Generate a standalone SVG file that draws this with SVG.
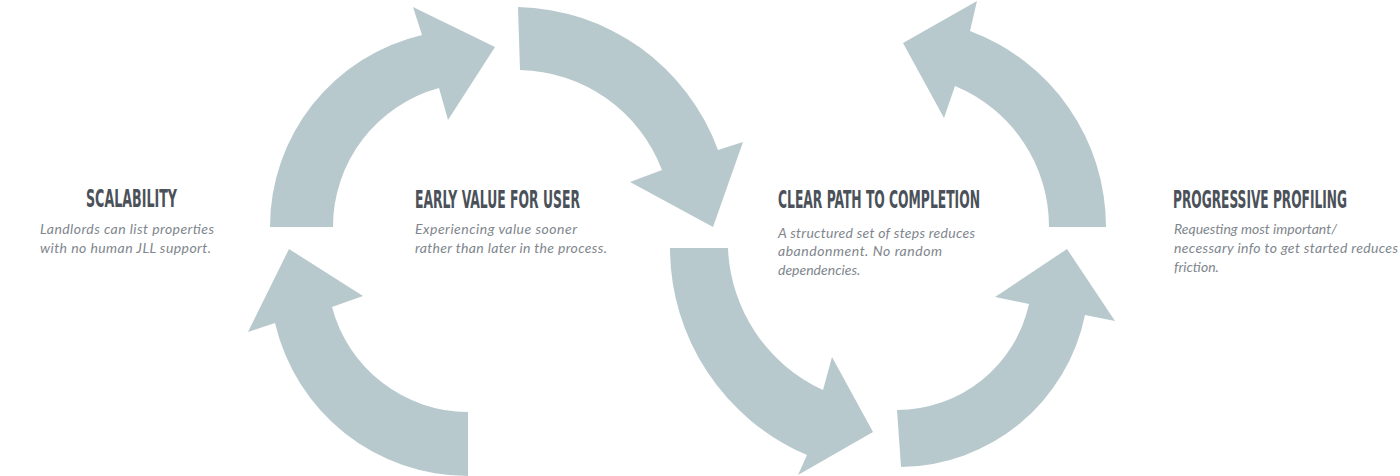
<svg xmlns="http://www.w3.org/2000/svg" width="1400" height="476" viewBox="0 0 1400 476">
<style>
.arrow{fill:#b8c9cd;stroke:none}
.title{font-family:"Liberation Sans Narrow","DejaVu Sans Condensed","Liberation Sans",sans-serif;font-weight:bold;font-size:24px;fill:#4b5159}
.desc{font-family:Lato,"Open Sans","Liberation Sans",sans-serif;font-style:italic;font-size:14px;fill:#80868d}
</style>
<rect width="1400" height="476" fill="#ffffff"/>
<g id="connectors">
<path class="arrow" d="M270,227 A197,197 0 0 1 422,35 L413,7 L495,47 L448,120 L439,88 A144,144 0 0 0 333,227 Z"/>
<path class="arrow" d="M518,7 A218,218 0 0 1 718,150 L743,142 L713,227 L630,182 L662,170 A155,155 0 0 0 520,70 Z"/>
<path class="arrow" d="M670,248 A225,225 0 0 0 807,455 L798,475 L873,432 L832,357 L823,390 A163,163 0 0 1 728,248 Z"/>
<path class="arrow" d="M901,467 A190,190 0 0 0 1085,315 L1115,321 L1067,249 L995,297 L1029,304 A135,135 0 0 1 897,410 Z"/>
<path class="arrow" d="M1106,227 A209,209 0 0 0 970,31 L977,1 L903,43 L944,118 L955,86 A152,152 0 0 1 1049,227 Z"/>
<path class="arrow" d="M468,476 A198,198 0 0 1 275,323 L248,332 L289,249 L363,296 L332,307 A141,141 0 0 0 468,412 Z"/>
</g>
<g id="scalability">
<text class="title" transform="translate(86,207) scale(0.68,1)" textLength="133.8" lengthAdjust="spacingAndGlyphs">SCALABILITY</text>
<text class="desc" x="40" y="234" textLength="174">Landlords can list properties</text>
<text class="desc" x="40" y="253" textLength="171">with no human JLL support.</text>
</g>
<g id="early-value">
<text class="title" transform="translate(415,208) scale(0.68,1)" textLength="242.6" lengthAdjust="spacingAndGlyphs">EARLY VALUE FOR USER</text>
<text class="desc" x="415" y="234" textLength="162">Experiencing value sooner</text>
<text class="desc" x="415" y="253" textLength="192">rather than later in the process.</text>
</g>
<g id="clear-path">
<text class="title" transform="translate(778,208) scale(0.68,1)" textLength="297" lengthAdjust="spacingAndGlyphs">CLEAR PATH TO COMPLETION</text>
<text class="desc" x="778" y="238" textLength="197">A structured set of steps reduces</text>
<text class="desc" x="778" y="256" textLength="164">abandonment. No random</text>
<text class="desc" x="778" y="275">dependencies.</text>
</g>
<g id="progressive-profiling">
<text class="title" transform="translate(1173,208) scale(0.68,1)" textLength="255.9" lengthAdjust="spacingAndGlyphs">PROGRESSIVE PROFILING</text>
<text class="desc" x="1174" y="234" textLength="163">Requesting most important/</text>
<text class="desc" x="1174" y="253" textLength="224">necessary info to get started reduces</text>
<text class="desc" x="1174" y="272">friction.</text>
</g>
</svg>
